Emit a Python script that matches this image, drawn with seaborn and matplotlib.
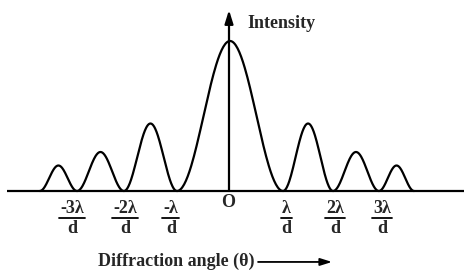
import numpy as np
import pandas as pd
import matplotlib
matplotlib.use("Agg")
import matplotlib.pyplot as plt
import seaborn as sns

# ---- data (theta in units of lambda/d, intensity relative to central max) ----
zeros = [-3.71, -2.98, -2.06, -1.02, 1.06, 2.04, 2.94, 3.63]   # minima positions
heights = [0.17, 0.26, 0.45, 1.00, 0.45, 0.26, 0.17]          # lobe maxima
tick_pos = [-3.08, -2.04, -1.14, 1.12, 2.08, 3.0]
tick_num = ["-3λ", "-2λ", "-λ", "λ", "2λ", "3λ"]
tick_den = "d"

# build the smooth lobes between consecutive minima
xs, ys = [], []
for z0, z1, h in zip(zeros[:-1], zeros[1:], heights):
    t = np.linspace(0, 1, 120)
    xs.append(z0 + (z1 - z0) * t)
    ys.append(h * np.sin(np.pi * t) ** 2)
df = pd.DataFrame({"theta": np.concatenate(xs), "I": np.concatenate(ys)})

sns.set_style("white")
plt.rcParams["font.family"] = ["Liberation Serif", "DejaVu Serif"]

fig = plt.figure(figsize=(4.74, 2.79), dpi=100)
ax = fig.add_axes([0, 0, 1, 1])
ax.set_xlim(-229 / 51, (474 - 229) / 51)
ax.set_ylim(-88 / 150, 191 / 150)
ax.axis("off")

sns.lineplot(data=df, x="theta", y="I", ax=ax, color="black", lw=1.6, sort=False)

# horizontal axis line
ax.plot([-4.35, 4.61], [0, 0], color="black", lw=1.6, solid_capstyle="butt")
# vertical intensity arrow
ax.annotate("", xy=(0, 181 / 150), xytext=(0, 0),
            arrowprops=dict(arrowstyle="-|>,head_length=0.8,head_width=0.25",
                            color="black", lw=1.6, shrinkA=0, shrinkB=0))
FS = 13
ax.text(0.37, 1.087, "Intensity", fontsize=FS, fontweight="bold",
        ha="left", va="baseline")

ax.text(-0.02, -0.107, "O", fontsize=FS, fontweight="bold", ha="center", va="baseline")

fig.canvas.draw()
r = fig.canvas.get_renderer()
inv = ax.transData.inverted()
for xp, num in zip(tick_pos, tick_num):
    t = ax.text(xp, -0.147, num, fontsize=FS, fontweight="bold", ha="center", va="baseline")
    bb = t.get_window_extent(renderer=r)
    (x0, _), (x1, _) = inv.transform([(bb.x0, 0), (bb.x1, 0)])
    ax.plot([x0 - 0.02, x1 + 0.02], [-0.18, -0.18], color="black", lw=1.3)
    ax.text(xp, -0.28, tick_den, fontsize=FS, fontweight="bold", ha="center", va="baseline")

ax.text(-2.57, -0.50, "Diffraction angle (θ)", fontsize=FS, fontweight="bold",
        ha="left", va="baseline")
ax.annotate("", xy=(2.02, -0.473), xytext=(0.57, -0.473),
            arrowprops=dict(arrowstyle="-|>,head_length=0.7,head_width=0.22",
                            color="black", lw=1.3, shrinkA=0, shrinkB=0))

fig.savefig("out.png", dpi=100)
